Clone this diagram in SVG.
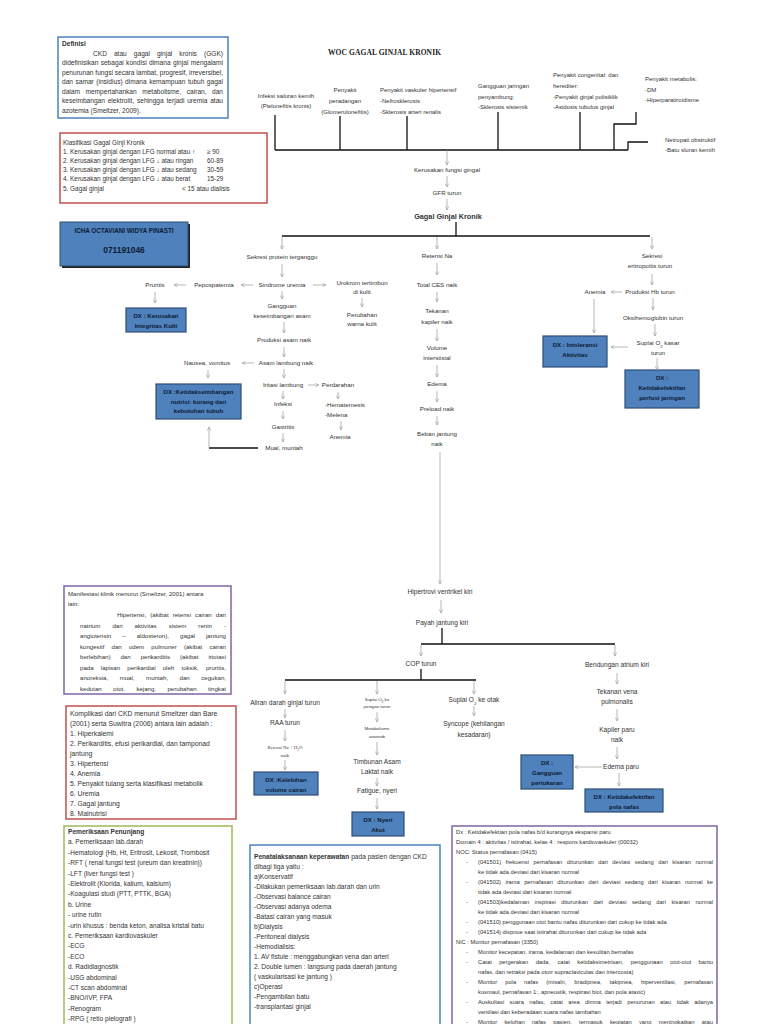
<svg xmlns="http://www.w3.org/2000/svg" width="768" height="1024" viewBox="0 0 768 1024">
<style>
text{font-family:"Liberation Sans",Arial,sans-serif;font-size:6.2px;fill:#333}
.c{text-anchor:middle}
.b{font-weight:bold}
.cz{font-size:6px}
.lo{font-size:6.6px}
.s{font-size:4.4px}
.sf{font-family:"Liberation Serif","Times New Roman",serif;font-size:4.8px}
.def{font-size:6.6px}
.man{font-size:6.1px}
.kom{font-size:6.8px}
.kl{font-size:6.4px}
.pem{font-size:6.6px}
.pen{font-size:6.6px}
.q{font-size:5.75px}
.dx rect{fill:#4F81BD;stroke:#2C4D75;stroke-width:1.2}
.dx text{font-weight:bold;fill:#0D1B33;font-size:6.1px;text-anchor:middle}
.a{stroke:#9a9a9a;stroke-width:0.7;fill:none;marker-end:url(#ah)}
.k{stroke:#111;stroke-width:1.3;fill:none}
.box{fill:#fff;stroke-width:1.5}
</style>
<defs>
<marker id="ah" viewBox="0 0 10 10" refX="9" refY="5" markerWidth="4.5" markerHeight="4.5" markerUnits="userSpaceOnUse" orient="auto">
<path d="M1,1 L9,5 L1,9" fill="none" stroke="#9a9a9a" stroke-width="1.3"/>
</marker>
</defs>
<rect width="768" height="1024" fill="#fff"/>

<!-- Definisi -->
<g id="definisi">
<rect class="box" x="58" y="37" width="170" height="81" stroke="#4F81BD"/>
<text class="def b" x="62" y="46">Definisi</text>
<text class="def" x="93" y="55.5" word-spacing="5.2" textLength="130" lengthAdjust="spacing">CKD atau gagal ginjal kronis (GGK)</text>
<text class="def" x="62" y="65" word-spacing="0.5" textLength="161" lengthAdjust="spacing">didefinisikan sebagai kondisi dimana ginjal mengalami</text>
<text class="def" x="62" y="74.5" textLength="161" lengthAdjust="spacing">penurunan fungsi secara lambat, progresif, irreversibel,</text>
<text class="def" x="62" y="84" word-spacing="0.6" textLength="161" lengthAdjust="spacing">dan samar (insidius) dimana kemampuan tubuh gagal</text>
<text class="def" x="62" y="93.5" word-spacing="3.6" textLength="161" lengthAdjust="spacing">dalam mempertahankan metabolisme, cairan, dan</text>
<text class="def" x="62" y="103" word-spacing="0.9" textLength="161" lengthAdjust="spacing">keseimbangan elektrolit, sehingga terjadi uremia atau</text>
<text class="def" x="62" y="112.5">azotemia (Smeltzer, 2009).</text>
</g>

<!-- Title -->
<g id="title">
<text x="328" y="55" style="font-family:'Liberation Serif','Times New Roman',serif;font-size:7.5px;font-weight:bold;fill:#222" textLength="113" lengthAdjust="spacing">WOC GAGAL GINJAL KRONIK</text>
</g>

<!-- Causes -->
<g id="c1"><text class="c cz" x="286" y="98">Infeksi saluran kemih</text><text class="c cz" x="286" y="108">(Pielonefitis kronis)</text></g>
<g id="c2"><text class="c cz" x="345" y="92">Penyakit</text><text class="c cz" x="345" y="103">peradangan</text><text class="c cz" x="345" y="114">(Glomerulonefitis)</text></g>
<g id="c3"><text class="cz" x="380" y="92">Penyakit vaskuler hipertensif</text><text class="cz" x="380" y="103">-Nefrosklerosis</text><text class="cz" x="380" y="114">-Sklerosis arteri renalis</text></g>
<g id="c4"><text class="cz" x="478" y="88">Gangguan jaringan</text><text class="cz" x="478" y="99">penyambung:</text><text class="cz" x="478" y="109">-Sklerosis sistemik</text></g>
<g id="c5"><text class="cz" x="553" y="77">Penyakit congenital: dan</text><text class="cz" x="553" y="88">herediter:</text><text class="cz" x="553" y="99">-Penyakit ginjal polisiklik</text><text class="cz" x="553" y="109">-Asidosis tubulus ginjal</text></g>
<g id="c6"><text class="cz" x="645" y="81">Penyakit metabolis:</text><text class="cz" x="645" y="92">-DM</text><text class="cz" x="645" y="102">-Hiperparatiroidisme</text></g>
<g id="c7"><text class="cz" x="665" y="142">Netropati obstruktif</text><text class="cz" x="665" y="152">-Batu sluran kemih</text></g>

<!-- Klasifikasi -->
<g id="klasifikasi">
<rect class="box" x="60" y="133" width="207" height="70" stroke="#C0504D"/>
<text class="kl" x="63" y="145">Klasifikasi Gagal Ginjl Kronik</text>
<text class="kl" x="63" y="154">1. Kerusakan ginjal dengan LFG normal atau ↑</text><text class="kl" x="207" y="154">≥ 90</text>
<text class="kl" x="63" y="163">2. Kerusakan ginjal dengan LFG ↓ atau ringan</text><text class="kl" x="207" y="163">60-89</text>
<text class="kl" x="63" y="172">3. Kerusakan ginjal dengan LFG ↓ atau sedang</text><text class="kl" x="207" y="172">30-59</text>
<text class="kl" x="63" y="181">4. Kerusakan ginjal dengan LFG ↓ atau berat</text><text class="kl" x="207" y="181">15-29</text>
<text class="kl" x="63" y="191">5. Gagal ginjal</text><text class="kl" x="182" y="191">&lt; 15 atau dialisis</text>
</g>

<!-- Name -->
<g id="name">
<rect x="62" y="224" width="128" height="44" fill="#222"/>
<rect x="60" y="222" width="128" height="44" fill="#4F81BD" stroke="#2C4D75" stroke-width="1"/>
<text class="c b" x="124" y="233" style="fill:#0D1B33;font-size:6.3px">ICHA OCTAVIANI WIDYA PINASTI</text>
<text class="c b" x="124" y="253" style="fill:#0D1B33;font-size:8.4px">071191046</text>
</g>

<!-- Main chain top -->
<g id="n-kerusakan"><text class="c" x="447" y="172">Kerusakan fungsi gingal</text></g>
<g id="n-gfr"><text class="c" x="447" y="195">GFR turun</text></g>
<g id="n-ggk"><text class="c b" x="448" y="219" style="font-size:7.3px">Gagal Ginjal Kronik</text></g>

<!-- Left column -->
<g id="n-sekresi-protein"><text class="c" x="282" y="259">Sekresi protein terganggu</text></g>
<g id="n-sindrome"><text class="c" x="282" y="287">Sindrome uremia</text></g>
<g id="n-pepo"><text class="c" x="214" y="287">Pepospatemia</text></g>
<g id="n-pruritis"><text class="c" x="155" y="287">Pruritis</text></g>
<g id="dx-kulit" class="dx"><rect x="126" y="308" width="60" height="24"/><text x="156" y="318">DX : Kerusakan</text><text x="156" y="327.5">Integritas Kulit</text></g>
<g id="n-urokrom"><text class="c" x="362" y="285">Urokrom tertimbun</text><text class="c" x="362" y="294">di kulit</text></g>
<g id="n-perubahan"><text class="c" x="362" y="317">Perubahan</text><text class="c" x="362" y="326">warna kulit</text></g>
<g id="n-gangguan"><text class="c" x="282" y="308">Gangguan</text><text class="c" x="282" y="318">keseimbangan asam</text></g>
<g id="n-prod-asam"><text class="c" x="284" y="342">Produksi asam naik</text></g>
<g id="n-asam-lambung"><text class="c" x="286" y="365">Asam lambung naik</text></g>
<g id="n-nausea"><text class="c" x="207" y="365">Nausea, vomitus</text></g>
<g id="dx-nutrisi" class="dx"><rect x="156" y="384" width="85" height="35"/><text x="198.5" y="394">DX :Ketidakseimbangan</text><text x="198.5" y="403.5">nutrisi: kurang dari</text><text x="198.5" y="413">kebutuhan tubuh</text></g>
<g id="n-iritasi"><text class="c" x="283" y="387">Iritasi lambung</text></g>
<g id="n-perdarahan"><text class="c" x="338" y="387">Perdarahan</text></g>
<g id="n-hema"><text x="325" y="407">-Hematemesis</text><text x="325" y="417">-Melena</text></g>
<g id="n-anemia1"><text class="c" x="340" y="439">Anemia</text></g>
<g id="n-infeksi"><text class="c" x="283" y="406">Infeksi</text></g>
<g id="n-gastritis"><text class="c" x="283" y="429">Gastritis</text></g>
<g id="n-mual"><text class="c" x="284" y="450">Mual, muntah</text></g>

<!-- Middle column -->
<g id="n-retensi"><text class="c" x="437" y="258">Retensi Na</text></g>
<g id="n-ces"><text class="c" x="437" y="287">Total CES naik</text></g>
<g id="n-tekanan"><text class="c" x="437" y="313">Tekanan</text><text class="c" x="437" y="324">kapiler naik</text></g>
<g id="n-volume"><text class="c" x="437" y="350">Volume</text><text class="c" x="437" y="360">interstisial</text></g>
<g id="n-edema"><text class="c" x="437" y="386">Edema</text></g>
<g id="n-preload"><text class="c" x="437" y="411">Preload naik</text></g>
<g id="n-beban"><text class="c" x="437" y="436">Beban jantung</text><text class="c" x="437" y="446">naik</text></g>

<!-- Right column -->
<g id="n-sekresi-eri"><text class="c" x="652" y="258">Sekresi</text><text class="c" x="650" y="268">eritropoitis turun</text></g>
<g id="n-hb"><text class="c" x="650" y="294">Produksi Hb turun</text></g>
<g id="n-anemia2"><text class="c" x="595" y="294">Anemia</text></g>
<g id="n-oksi"><text class="c" x="653" y="320">Oksihemoglobin turun</text></g>
<g id="n-suplai"><text class="c" x="658" y="345">Suplai O<tspan baseline-shift="sub" style="font-size:4.2px">2</tspan> kasar</text><text class="c" x="658" y="355">turun</text></g>
<g id="dx-intoleransi" class="dx"><rect x="543" y="336" width="64" height="31"/><text x="575" y="347">DX : Intoleransi</text><text x="575" y="356.5">Aktivitas</text></g>
<g id="dx-perfusi" class="dx"><rect x="625" y="370" width="74" height="38"/><text x="662" y="380">DX :</text><text x="662" y="390">Ketidakefektifan</text><text x="662" y="400">perfusi jaringan</text></g>

<!-- Lower chain -->
<g id="n-hipertrovi"><text class="c lo" x="440" y="594">Hipertrovi ventrikel kiri</text></g>
<g id="n-payah"><text class="c lo" x="442" y="625">Payah jantung kiri</text></g>
<g id="n-cop"><text class="c lo" x="421" y="666">COP turun</text></g>
<g id="n-bendungan"><text class="c lo" x="617" y="667">Bendungan atrium kiri</text></g>
<g id="n-aliran"><text class="c lo" x="285" y="705">Aliran darah ginjal turun</text></g>
<g id="n-raa"><text class="c lo" x="285" y="725">RAA turun</text></g>
<g id="n-retensi2"><text class="c sf" x="285" y="749">Retensi Na + H<tspan baseline-shift="sub" style="font-size:3.4px">2</tspan>O</text><text class="c sf" x="285" y="757">naik</text></g>
<g id="dx-cairan" class="dx"><rect x="254" y="772" width="64" height="23"/><text x="286" y="782">DX :Kelebihan</text><text x="286" y="791.5">volume cairan</text></g>
<g id="n-suplai-jar"><text class="c s" x="377" y="701">Suplai O<tspan baseline-shift="sub" style="font-size:3.2px">2</tspan> ke</text><text class="c s" x="377" y="708">jaringan turun</text></g>
<g id="n-metabolisme"><text class="c s" x="377" y="730">Metabolisme</text><text class="c s" x="377" y="738">anaerob</text></g>
<g id="n-timbunan"><text class="c lo" x="377" y="764">Timbunan Asam</text><text class="c lo" x="377" y="774">Laktat naik</text></g>
<g id="n-fatigue"><text class="c lo" x="377" y="793">Fatigue, nyeri</text></g>
<g id="dx-nyeri" class="dx"><rect x="352" y="812" width="52" height="24"/><text x="378" y="822">DX : Nyeri</text><text x="378" y="831.5">Akut</text></g>
<g id="n-suplai-otak"><text class="c lo" x="474" y="702">Suplai O<tspan baseline-shift="sub" style="font-size:4.4px">2</tspan> ke otak</text></g>
<g id="n-syncope"><text class="c lo" x="474" y="726">Syncope (kehilangan</text><text class="c lo" x="474" y="737">kesadaran)</text></g>
<g id="n-tekanan-vena"><text class="c lo" x="617" y="694">Tekanan vena</text><text class="c lo" x="617" y="704">pulmonalis</text></g>
<g id="n-kapiler"><text class="c lo" x="617" y="732">Kapiler paru</text><text class="c lo" x="617" y="742">naik</text></g>
<g id="n-edema-paru"><text class="c lo" x="621" y="769">Edema paru</text></g>
<g id="dx-gangguan" class="dx"><rect x="521" y="755" width="52" height="34"/><text x="547" y="765">DX :</text><text x="547" y="775">Gangguan</text><text x="547" y="785">pertukaran</text></g>
<g id="dx-pola" class="dx"><rect x="585" y="789" width="78" height="23"/><text x="624" y="799">DX : Ketidakefektifan</text><text x="624" y="808.5">pola nafas</text></g>

<!-- Manifestasi -->
<g id="manifestasi">
<rect class="box" x="64" y="586" width="167" height="108" stroke="#8064A2"/>
<text class="man" x="68" y="596">Manifestasi klinik menurut (Smeltzer, 2001) antara</text>
<text class="man" x="68" y="606">lain:</text>
<text class="man" x="117" y="617" word-spacing="2.4" textLength="109" lengthAdjust="spacing">Hipertensi, (akibat retensi cairan dan</text>
<text class="man" x="80" y="627.5" word-spacing="10.4" textLength="146" lengthAdjust="spacing">natrium dari aktivitas sistem renin -</text>
<text class="man" x="80" y="638" word-spacing="9.4" textLength="146" lengthAdjust="spacing">angiotensin – aldosteron), gagal jantung</text>
<text class="man" x="80" y="648.5" word-spacing="5.5" textLength="146" lengthAdjust="spacing">kongestif dan odem pulmoner (akibat cairan</text>
<text class="man" x="80" y="659" word-spacing="8.3" textLength="146" lengthAdjust="spacing">berlebihan) dan perikarditis (akibat iriotasi</text>
<text class="man" x="80" y="669.5" word-spacing="5.5" textLength="146" lengthAdjust="spacing">pada lapisan perikardial oleh toksik, pruritis,</text>
<text class="man" x="80" y="680" word-spacing="9.8" textLength="146" lengthAdjust="spacing">anoreksia, mual, muntah, dan cegukan,</text>
<text class="man" x="80" y="690.5" word-spacing="9.7" textLength="146" lengthAdjust="spacing">kedutan otot, kejang, perubahan tingkat</text>
</g>

<!-- Komplikasi -->
<g id="komplikasi">
<rect class="box" x="66" y="706" width="170" height="113" stroke="#C0504D"/>
<text class="kom" x="70" y="716">Komplikasi dari CKD menurut Smeltzer dan Bare</text>
<text class="kom" x="70" y="726">(2001) serta Suwitra (2006) antara lain adalah :</text>
<text class="kom" x="70" y="736">1. Hiperkalemi</text>
<text class="kom" x="70" y="746">2. Perikarditis, efusi perikardial, dan tamponad</text>
<text class="kom" x="70" y="756">jantung</text>
<text class="kom" x="70" y="766">3. Hipertensi</text>
<text class="kom" x="70" y="776">4. Anemia</text>
<text class="kom" x="70" y="786">5. Penyakit tulang serta klasifikasi metabolik</text>
<text class="kom" x="70" y="796">6. Uremia</text>
<text class="kom" x="70" y="806">7. Gagal jantung</text>
<text class="kom" x="70" y="816">8. Malnutrisi</text>
</g>

<!-- Pemeriksaan -->
<g id="pemeriksaan">
<rect class="box" x="64" y="826" width="168" height="210" stroke="#9BBB59"/>
<text class="pem b" x="68" y="834">Pemeriksaan Penunjang</text>
<text class="pem" x="68" y="844.4">a. Pemeriksaan lab.darah</text>
<text class="pem" x="68" y="854.8">-Hematologi (Hb, Ht, Eritrosit, Lekosit, Trombosit</text>
<text class="pem" x="68" y="865.2">-RFT ( renal fungsi test (ureum dan kreatinin))</text>
<text class="pem" x="68" y="875.6">-LFT (liver fungsi test )</text>
<text class="pem" x="68" y="886">-Elektrolit (Klorida, kalium, kalsium)</text>
<text class="pem" x="68" y="896.4">-Koagulasi studi (PTT, PTTK, BGA)</text>
<text class="pem" x="68" y="906.8">b. Urine</text>
<text class="pem" x="68" y="917.2">- urine rutin</text>
<text class="pem" x="68" y="927.6">-urin khusus : benda keton, analisa kristal batu</text>
<text class="pem" x="68" y="938">c. Pemeriksaan kardiovaskuler</text>
<text class="pem" x="68" y="948.4">-ECG</text>
<text class="pem" x="68" y="958.8">-ECO</text>
<text class="pem" x="68" y="969.2">d. Radidiagnostik</text>
<text class="pem" x="68" y="979.6">-USG abdominal</text>
<text class="pem" x="68" y="990">-CT scan abdominal</text>
<text class="pem" x="68" y="1000.4">-BNO/IVP, FPA</text>
<text class="pem" x="68" y="1010.8">-Renogram</text>
<text class="pem" x="68" y="1021.2">-RPG ( retio pielografi )</text>
</g>

<!-- Penatalaksanaan -->
<g id="penatalaksanaan">
<rect class="box" x="250" y="845" width="190" height="190" stroke="#4F81BD"/>
<text class="pen" x="254" y="859"><tspan class="b">Penatalaksanaan keperawatan</tspan> pada pasien dengan CKD</text>
<text class="pen" x="254" y="869">dibagi tiga yaitu :</text>
<text class="pen" x="254" y="879">a)Konservatif</text>
<text class="pen" x="254" y="889">-Dilakukan pemeriksaan lab.darah dan urin</text>
<text class="pen" x="254" y="899">-Observasi balance cairan</text>
<text class="pen" x="254" y="909">-Observasi adanya odema</text>
<text class="pen" x="254" y="919">-Batasi cairan yang masuk</text>
<text class="pen" x="254" y="929">b)Dialysis</text>
<text class="pen" x="254" y="939">-Peritoneal dialysis</text>
<text class="pen" x="254" y="949">-Hemodialisis:</text>
<text class="pen" x="254" y="959">1. AV fistule : menggabungkan vena dan arteri</text>
<text class="pen" x="254" y="969">2. Double lumen : langsung pada daerah jantung</text>
<text class="pen" x="254" y="979">( vaskularisasi ke jantung )</text>
<text class="pen" x="254" y="989">c)Operasi</text>
<text class="pen" x="254" y="999">-Pengambilan batu</text>
<text class="pen" x="254" y="1009">-transplantasi ginjal</text>
</g>

<!-- Dx pola nafas -->
<g id="dx-detail">
<rect class="box" x="452" y="826" width="265" height="210" stroke="#8064A2"/>
<text class="q" x="456" y="834">Dx : Ketidakefektian pola nafas b/d kurangnya ekspansi paru</text>
<text class="q" x="456" y="844">Domain 4 : aktivitas / istirahat, kelas 4 : respons kardiovaskuler (00032)</text>
<text class="q" x="456" y="854">NOC: Status pernafasan (0415)</text>
<text class="q" x="466" y="864">-</text><text class="q" x="478" y="864" word-spacing="2.9" textLength="235" lengthAdjust="spacing">(041501) frekuensi pernafasan diturunkan dari deviasi sedang dari kisaran normal</text>
<text class="q" x="478" y="874">ke tidak ada deviasi dari kisaran normal</text>
<text class="q" x="466" y="884">-</text><text class="q" x="478" y="884" word-spacing="2.8" textLength="235" lengthAdjust="spacing">(041502) irama pernafasan diturunkan dari deviasi sedang dari kisaran normal ke</text>
<text class="q" x="478" y="894">tidak ada deviasi dari kisaran normal</text>
<text class="q" x="466" y="904">-</text><text class="q" x="478" y="904" word-spacing="3.9" textLength="235" lengthAdjust="spacing">(041503)kedalaman inspirasi diturunkan dari deviasi sedang dari kisaran normal</text>
<text class="q" x="478" y="914">ke tidak ada deviasi dari kisaran normal</text>
<text class="q" x="466" y="924">-</text><text class="q" x="478" y="924">(041510) penggunaan otot bantu nafas diturunkan dari cukup ke tidak ada</text>
<text class="q" x="466" y="934">-</text><text class="q" x="478" y="934">(041514) dispnue saat istirahat diturunkan dari cukup ke tidak ada</text>
<text class="q" x="456" y="944">NiC : Monitor pernafasan (3350)</text>
<text class="q" x="466" y="954">-</text><text class="q" x="478" y="954">Monitor kecepatan, irama, kedalaman dan kesulitan bernafas</text>
<text class="q" x="466" y="964">-</text><text class="q" x="478" y="964" word-spacing="5.8" textLength="235" lengthAdjust="spacing">Catat pergerakan dada, catat ketidaksimetrisan, penggunaan otot-otot bantu</text>
<text class="q" x="478" y="974">nafas, dan retraksi pada ototr supraclaviculas dan intercosta)</text>
<text class="q" x="466" y="984">-</text><text class="q" x="478" y="984" word-spacing="6.4" textLength="235" lengthAdjust="spacing">Monitor pola nafas (misaln, bradipnea, takipnea, hiperventilasi, pernafasan</text>
<text class="q" x="478" y="994">kusmaul, pernafasan 1:, apneustik, respirasi biot, dan pola ataxic)</text>
<text class="q" x="466" y="1004">-</text><text class="q" x="478" y="1004" word-spacing="3.8" textLength="235" lengthAdjust="spacing">Auskultasi suara nafas, catat area dimna terjadi penurunan atau tidak adanya</text>
<text class="q" x="478" y="1014">ventilasi dan keberadaan suara nafas tambahan</text>
<text class="q" x="466" y="1024">-</text><text class="q" x="478" y="1024" word-spacing="5.7" textLength="235" lengthAdjust="spacing">Monitor keluhan nafas pasien, termasuk kegiatan yang meningkatkan atau</text>
</g>

<!-- Connectors -->
<g id="connectors">
<path class="k" d="M275,115V150M340,116V150M407,116V150M498,112V150M580,112V150M275,150H628M614,150V124H636V112M628,150V142H648"/>
<path class="k" d="M456,222V236M282,236H650"/>
<path class="k" d="M258,448H209"/>
<path class="k" d="M442,628V644M421,644H615M421,669V680M285,680H476"/>
<line class="a" x1="447" y1="150" x2="447" y2="165"/>
<line class="a" x1="447" y1="176" x2="447" y2="187"/>
<line class="a" x1="447" y1="199" x2="447" y2="210"/>
<line class="a" x1="282" y1="237" x2="282" y2="249"/>
<line class="a" x1="437" y1="237" x2="437" y2="249"/>
<line class="a" x1="652" y1="237" x2="652" y2="249"/>
<line class="a" x1="282" y1="264" x2="282" y2="277"/>
<line class="a" x1="253" y1="285" x2="241" y2="285"/>
<line class="a" x1="186" y1="285" x2="174" y2="285"/>
<line class="a" x1="155" y1="292" x2="155" y2="303"/>
<line class="a" x1="313" y1="285" x2="326" y2="285"/>
<line class="a" x1="362" y1="298" x2="362" y2="307"/>
<line class="a" x1="282" y1="291" x2="282" y2="299"/>
<line class="a" x1="284" y1="322" x2="284" y2="333"/>
<line class="a" x1="284" y1="347" x2="284" y2="357"/>
<line class="a" x1="254" y1="363" x2="242" y2="363"/>
<line class="a" x1="208" y1="370" x2="208" y2="378"/>
<line class="a" x1="284" y1="369" x2="284" y2="378"/>
<line class="a" x1="308" y1="385" x2="319" y2="385"/>
<line class="a" x1="338" y1="392" x2="338" y2="399"/>
<line class="a" x1="341" y1="421" x2="341" y2="430"/>
<line class="a" x1="283" y1="391" x2="283" y2="399"/>
<line class="a" x1="283" y1="411" x2="283" y2="419"/>
<line class="a" x1="283" y1="433" x2="283" y2="442"/>
<line class="a" x1="209" y1="448" x2="209" y2="427"/>
<line class="a" x1="437" y1="263" x2="437" y2="275"/>
<line class="a" x1="437" y1="292" x2="437" y2="302"/>
<line class="a" x1="437" y1="329" x2="437" y2="341"/>
<line class="a" x1="437" y1="365" x2="437" y2="377"/>
<line class="a" x1="437" y1="391" x2="437" y2="402"/>
<line class="a" x1="437" y1="416" x2="437" y2="425"/>
<line class="a" x1="440" y1="452" x2="440" y2="584"/>
<line class="a" x1="652" y1="274" x2="652" y2="285"/>
<line class="a" x1="622" y1="292" x2="611" y2="292"/>
<line class="a" x1="594" y1="299" x2="594" y2="333"/>
<line class="a" x1="653" y1="298" x2="653" y2="310"/>
<line class="a" x1="655" y1="324" x2="655" y2="336"/>
<line class="a" x1="628" y1="347" x2="611" y2="347"/>
<line class="a" x1="657" y1="358" x2="657" y2="370"/>
<line class="a" x1="441" y1="600" x2="441" y2="613"/>
<line class="a" x1="421" y1="645" x2="421" y2="656"/>
<line class="a" x1="615" y1="645" x2="615" y2="656"/>
<line class="a" x1="285" y1="681" x2="285" y2="694"/>
<line class="a" x1="377" y1="681" x2="377" y2="694"/>
<line class="a" x1="474" y1="681" x2="474" y2="694"/>
<line class="a" x1="285" y1="709" x2="285" y2="718"/>
<line class="a" x1="285" y1="730" x2="285" y2="741"/>
<line class="a" x1="285" y1="760" x2="285" y2="770"/>
<line class="a" x1="377" y1="712" x2="377" y2="722"/>
<line class="a" x1="377" y1="742" x2="377" y2="755"/>
<line class="a" x1="377" y1="778" x2="377" y2="786"/>
<line class="a" x1="377" y1="798" x2="377" y2="809"/>
<line class="a" x1="474" y1="706" x2="474" y2="716"/>
<line class="a" x1="617" y1="673" x2="617" y2="684"/>
<line class="a" x1="617" y1="709" x2="617" y2="721"/>
<line class="a" x1="617" y1="747" x2="617" y2="759"/>
<line class="a" x1="602" y1="767" x2="575" y2="767"/>
<line class="a" x1="619" y1="773" x2="619" y2="786"/>
</g>
</svg>
